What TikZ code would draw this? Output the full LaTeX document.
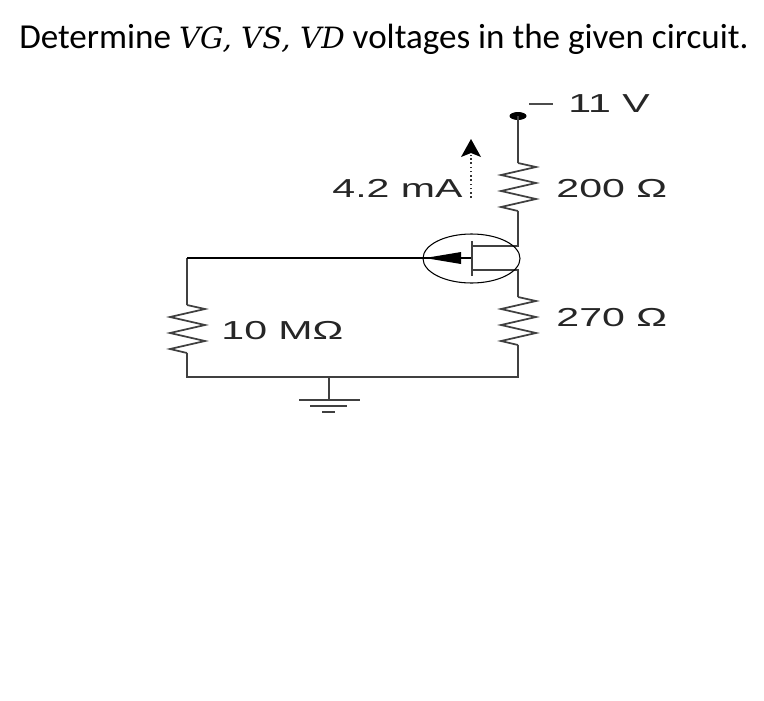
\documentclass[tikz,border=0pt]{standalone}
\usepackage{fontspec}
\setmainfont{Liberation Sans}
\newfontfamily\titlefont{Carlito}
\newfontfamily\mathfont{DejaVu Serif}
\usetikzlibrary{arrows.meta}
\tikzset{
  wire/.style={draw=black!75,line width=1.3pt,line join=miter},
  thin wire/.style={draw=black,line width=0.8pt},
  lbl/.style={inner sep=0pt,anchor=west,text=black!85,font=\fontsize{19.5}{22}\selectfont,xscale=1.58},
}
\newcommand{\vresistor}[2]{% x, top y
  \draw[wire] (#1,#2) -- ++(18,4) -- ++(-35,8) -- ++(35,8) -- ++(-35,8) -- ++(35,8) -- ++(-35,8) -- ++(17,4);
}
\begin{document}
\begin{tikzpicture}[x=0.75pt,y=-0.75pt]
\useasboundingbox (0,0) rectangle (764,700);
\node[inner sep=0pt,anchor=west,font=\fontsize{26.3}{30}\selectfont\titlefont] (title) at (19,39)
  {Determine \textit{\mathfont\fontsize{22}{28}\selectfont VG, VS, VD} voltages in the given circuit.};
% nodes
\coordinate (vdd) at (518,116);
\coordinate (rdtop) at (518,163);
\coordinate (rdbot) at (518,211);
\coordinate (d) at (518,246);
\coordinate (s) at (518,270);
\coordinate (rstop) at (518,297);
\coordinate (rsbot) at (518,345);
\coordinate (br) at (518,377);
\coordinate (bl) at (187,377);
\coordinate (rgbot) at (187,353);
\coordinate (rgtop) at (187,305);
\coordinate (tl) at (187,258);
\coordinate (gate) at (472,258);
\coordinate (gnd) at (329,377);
\coordinate (gndb) at (329,400);
\coordinate (ch1) at (472,241);
\coordinate (ch2) at (472,276);
\coordinate (cd) at (472,246);
\coordinate (cs) at (472,270);
\coordinate (ar1) at (471,198);
\coordinate (ar2) at (471,139);
% wires
\fill[black] (vdd) ellipse [x radius=8.5,y radius=4];
\draw[wire] (vdd) -- (rdtop);
\vresistor{518}{163}
\draw[wire] (rdbot) -- (d) -- (cd);
\draw[wire] (cs) -- (s) -- (rstop);
\vresistor{518}{297}
\draw[wire] (rsbot) -- (br) -- (bl) -- (rgbot);
\vresistor{187}{305}
\draw[wire] (rgtop) -- (tl);
\draw[thin wire] (tl) -- (gate);
\draw[wire] (ch1) -- (ch2);
\draw[thin wire] (471.5,258.5) ellipse [x radius=48.5,y radius=24.5];
\fill[black] (425,258) -- (461,252) -- (461,264) -- cycle;
% ground
\draw[wire] (gnd) -- (gndb);
\draw[wire] (299,400) -- (360,400);
\draw[wire] (310,406) -- (347,406);
\draw[wire] (322,412) -- (335,412);
% current arrow
\draw[draw=black!80,line width=1.2pt,dotted] (ar1) -- (471,155);
\fill[black] (ar2) -- (481,157) -- (471,153) -- (461,157) -- cycle;
% labels
\draw[draw=black!70,line width=0.8pt] (529,104) -- (553,104);
\node[lbl] (l11) at (568,104) {11 V};
\node[lbl] (l4) at (332,188) {4.2 mA};
\node[lbl] (l200) at (556,189) {200 Ω};
\node[lbl] (l270) at (556,318) {270 Ω};
\node[lbl] (l10) at (221,331) {10 MΩ};
\end{tikzpicture}
\end{document}
